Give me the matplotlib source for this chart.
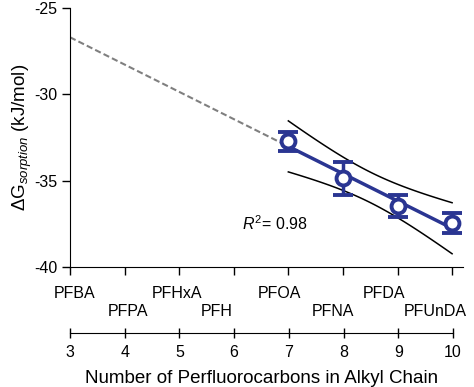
import numpy as np
import matplotlib
matplotlib.use("Agg")
import matplotlib.pyplot as plt
import matplotlib.transforms as mtransforms

plt.rcParams['font.family'] = ['Liberation Sans', 'DejaVu Sans']
plt.rcParams['mathtext.fontset'] = 'custom'
plt.rcParams['mathtext.rm'] = 'Liberation Sans'
plt.rcParams['mathtext.it'] = 'Liberation Sans:italic'
plt.rcParams['axes.unicode_minus'] = False
plt.rcParams['font.size'] = 11.5

# data
n_carbon = np.array([7, 8, 9, 10])
dG = np.array([-32.73, -34.87, -36.48, -37.46])
dG_err = np.array([0.55, 0.95, 0.63, 0.58])
compounds = ["PFBA", "PFPA", "PFHxA", "PFH", "PFOA", "PFNA", "PFDA", "PFUnDA"]
compound_n = [3, 4, 5, 6, 7, 8, 9, 10]
label_shift = [0.09, 0.06, -0.04, -0.31, -0.16, -0.19, -0.24, -0.31]

# linear fit + 95% confidence band
slope, icpt = np.polyfit(n_carbon, dG, 1)
xf = np.linspace(7, 10, 100)
yf = slope * xf + icpt
resid = dG - (slope * n_carbon + icpt)
s = np.sqrt(np.sum(resid**2) / (len(n_carbon) - 2))
xm = n_carbon.mean()
sxx = np.sum((n_carbon - xm)**2)
t = 4.303
band = t * s * np.sqrt(1 / len(n_carbon) + (xf - xm)**2 / sxx)
xe = np.array([3, 7])

blue = '#2a3592'
W, H = 474, 387
fig = plt.figure(figsize=(W / 100, H / 100), dpi=100)
ax = fig.add_axes([70 / W, (H - 267) / H, (463 - 70) / W, 259 / H])

ax.plot(xe, slope * xe + icpt, color='#808080', ls=(0, (3, 1.5)), lw=1.5)
ax.plot(xf, yf + band, color='black', lw=1.1)
ax.plot(xf, yf - band, color='black', lw=1.1)
ax.plot(xf, yf, color=blue, lw=2.5)
ax.errorbar(n_carbon, dG, yerr=dG_err, fmt='o', ms=10, mfc='white', mec=blue,
            mew=2.8, ecolor=blue, elinewidth=2.5, capsize=7, capthick=3, zorder=5)

ax.text(6.16, -37.5, r'$R^2$= 0.98', va='center', ha='left')

ax.set_xlim(3, 10.2)
ax.set_ylim(-40, -25)
ax.set_yticks([-40, -35, -30, -25])
ax.set_xticks(compound_n)
ax.set_xticklabels([])
ax.spines['top'].set_visible(False)
ax.spines['right'].set_visible(False)
ax.tick_params(direction='out', length=6, width=1, pad=3, labelsize=11.5)
ax.set_ylabel(r'$\Delta\mathrm{G}_{\mathit{sorption}}$ (kJ/mol)', fontsize=13.5, labelpad=0)

trans = mtransforms.blended_transform_factory(ax.transData, fig.transFigure)
for i, (lab, n, sh) in enumerate(zip(compounds, compound_n, label_shift)):
    yy = 293 if i % 2 == 0 else 311
    ax.text(n + sh, (H - yy) / H, lab, transform=trans, ha='center', va='center')

ax2 = fig.add_axes([70 / W, (H - 333) / H, 383 / W, 0.0001])
for sp in ['top', 'left', 'right']:
    ax2.spines[sp].set_visible(False)
ax2.set_yticks([])
ax2.set_xlim(3, 10)
ax2.set_xticks(compound_n)
ax2.tick_params(direction='inout', length=7, width=1, pad=5, labelsize=11.5)
ax2.set_xlabel('Number of Perfluorocarbons in Alkyl Chain', fontsize=13.5, labelpad=7)
ax2.patch.set_visible(False)

fig.savefig('out.png', dpi=100)
